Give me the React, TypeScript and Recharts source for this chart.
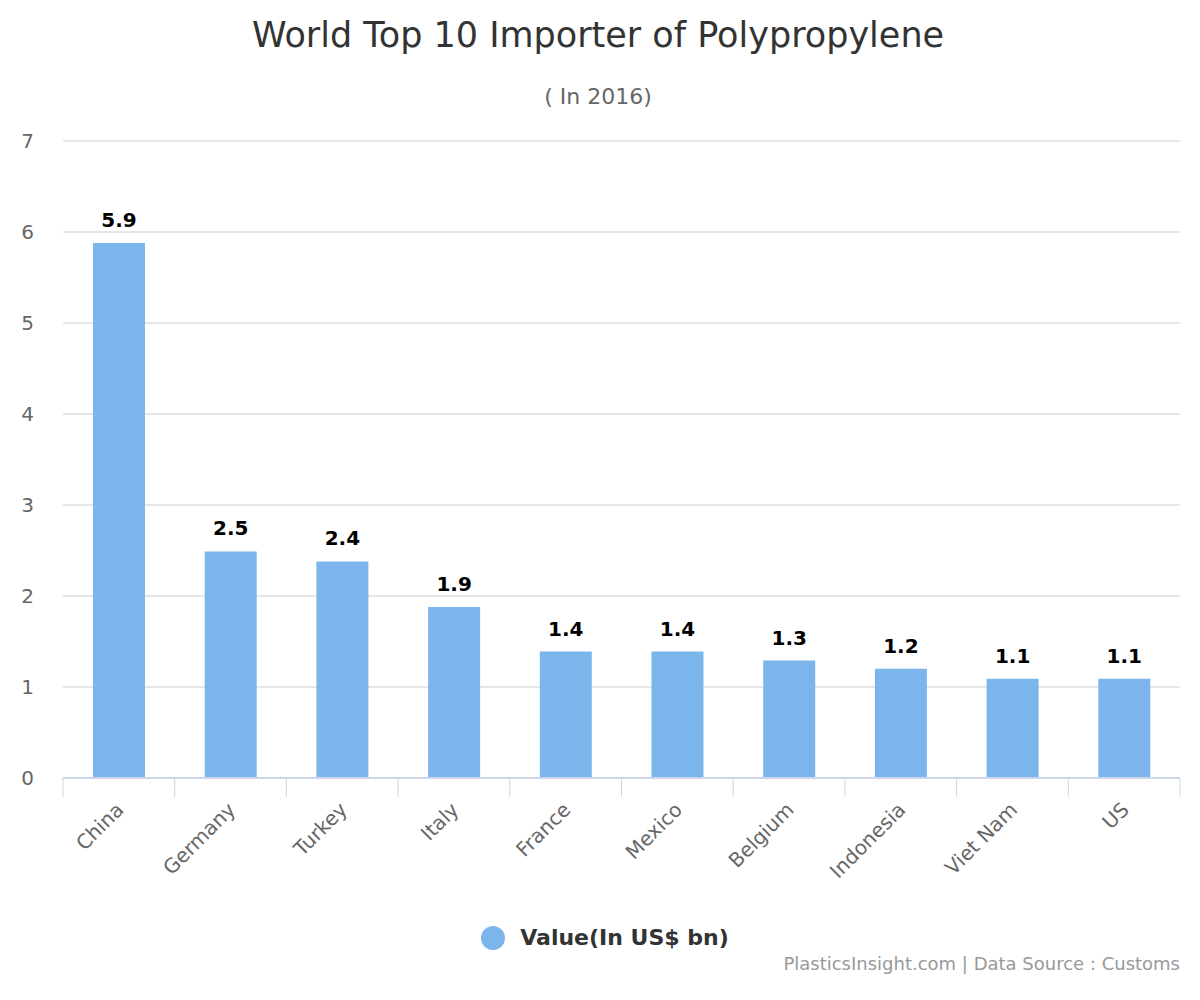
import React from "react";
import {
  BarChart,
  Bar,
  XAxis,
  YAxis,
  CartesianGrid,
  LabelList,
} from "recharts";

const countries = [
  "China",
  "Germany",
  "Turkey",
  "Italy",
  "France",
  "Mexico",
  "Belgium",
  "Indonesia",
  "Viet Nam",
  "US",
];
const values = [5.88, 2.49, 2.38, 1.88, 1.39, 1.39, 1.29, 1.2, 1.09, 1.09];
const yTicks = [0, 1, 2, 3, 4, 5, 6, 7];

const data = countries.map((name, i) => ({ name, value: values[i] }));

const FONT = "'DejaVu Sans', sans-serif";
const BAR_COLOR = "#7cb5ec";

// category ticks sit on the band edges, labels rotated under the band centre
function CategoryTick(props: any) {
  const { x, y, payload, index, visibleTicksCount } = props;
  const band = (1180 - 63) / countries.length;
  const left = x - band / 2;
  const last = index === visibleTicksCount - 1;
  return (
    <g>
      <line x1={left} y1={y - 8} x2={left} y2={y + 11} stroke="#ccd6eb" strokeWidth={1} />
      {last && (
        <line x1={left + band} y1={y - 8} x2={left + band} y2={y + 11} stroke="#ccd6eb" strokeWidth={1} />
      )}
      <text
        x={x + 6}
        y={y + 25}
        textAnchor="end"
        transform={`rotate(-45, ${x + 6}, ${y + 25})`}
        fill="#666666"
        fontSize={20}
        fontFamily={FONT}
      >
        {payload.value}
      </text>
    </g>
  );
}

export default function App() {
  return (
    <div style={{ position: "absolute", left: 0, top: 0, width: 1200, height: 1000, background: "#fff" }}>
      <div
        style={{
          position: "absolute",
          top: 15,
          width: 1196,
          textAlign: "center",
          fontFamily: FONT,
          fontSize: 35,
          color: "#333333",
        }}
      >
        World Top 10 Importer of Polypropylene
      </div>
      <div
        style={{
          position: "absolute",
          top: 84,
          width: 1196,
          textAlign: "center",
          fontFamily: FONT,
          fontSize: 22,
          color: "#666666",
        }}
      >
        ( In 2016)
      </div>
      <BarChart
        width={1200}
        height={1000}
        data={data}
        margin={{ top: 141, right: 20, bottom: 102, left: 0 }}
        barSize={52}
      >
        <CartesianGrid vertical={false} stroke="#e6e6e6" strokeWidth={2} />
        <XAxis
          dataKey="name"
          height={120}
          interval={0}
          axisLine={{ stroke: "#ccd6eb", strokeWidth: 2 }}
          tickLine={false}
          tick={<CategoryTick />}
        />
        <YAxis
          width={63}
          domain={[0, 7]}
          ticks={yTicks}
          axisLine={false}
          tickLine={false}
          tickSize={0}
          tickMargin={29}
          tick={{ fill: "#666666", fontSize: 20, fontFamily: FONT }}
        />
        <Bar dataKey="value" fill={BAR_COLOR} isAnimationActive={false}>
          <LabelList
            dataKey="value"
            position="top"
            offset={16}
            formatter={(v: any) => Number(v).toFixed(1)}
            style={{ fill: "#000000", fontSize: 20, fontWeight: "bold", fontFamily: FONT }}
          />
        </Bar>
      </BarChart>
      <div
        style={{
          position: "absolute",
          top: 925,
          left: 0,
          width: 1210,
          display: "flex",
          alignItems: "center",
          justifyContent: "center",
          fontFamily: FONT,
        }}
      >
        <span
          style={{
            width: 24,
            height: 24,
            borderRadius: 12,
            background: BAR_COLOR,
            display: "inline-block",
            marginRight: 15,
          }}
        />
        <span style={{ fontSize: 22, fontWeight: "bold", color: "#333333" }}>Value(In US$ bn)</span>
      </div>
      <div
        style={{
          position: "absolute",
          right: 20,
          top: 953,
          fontFamily: FONT,
          fontSize: 18,
          color: "#999999",
        }}
      >
        PlasticsInsight.com | Data Source : Customs
      </div>
    </div>
  );
}
